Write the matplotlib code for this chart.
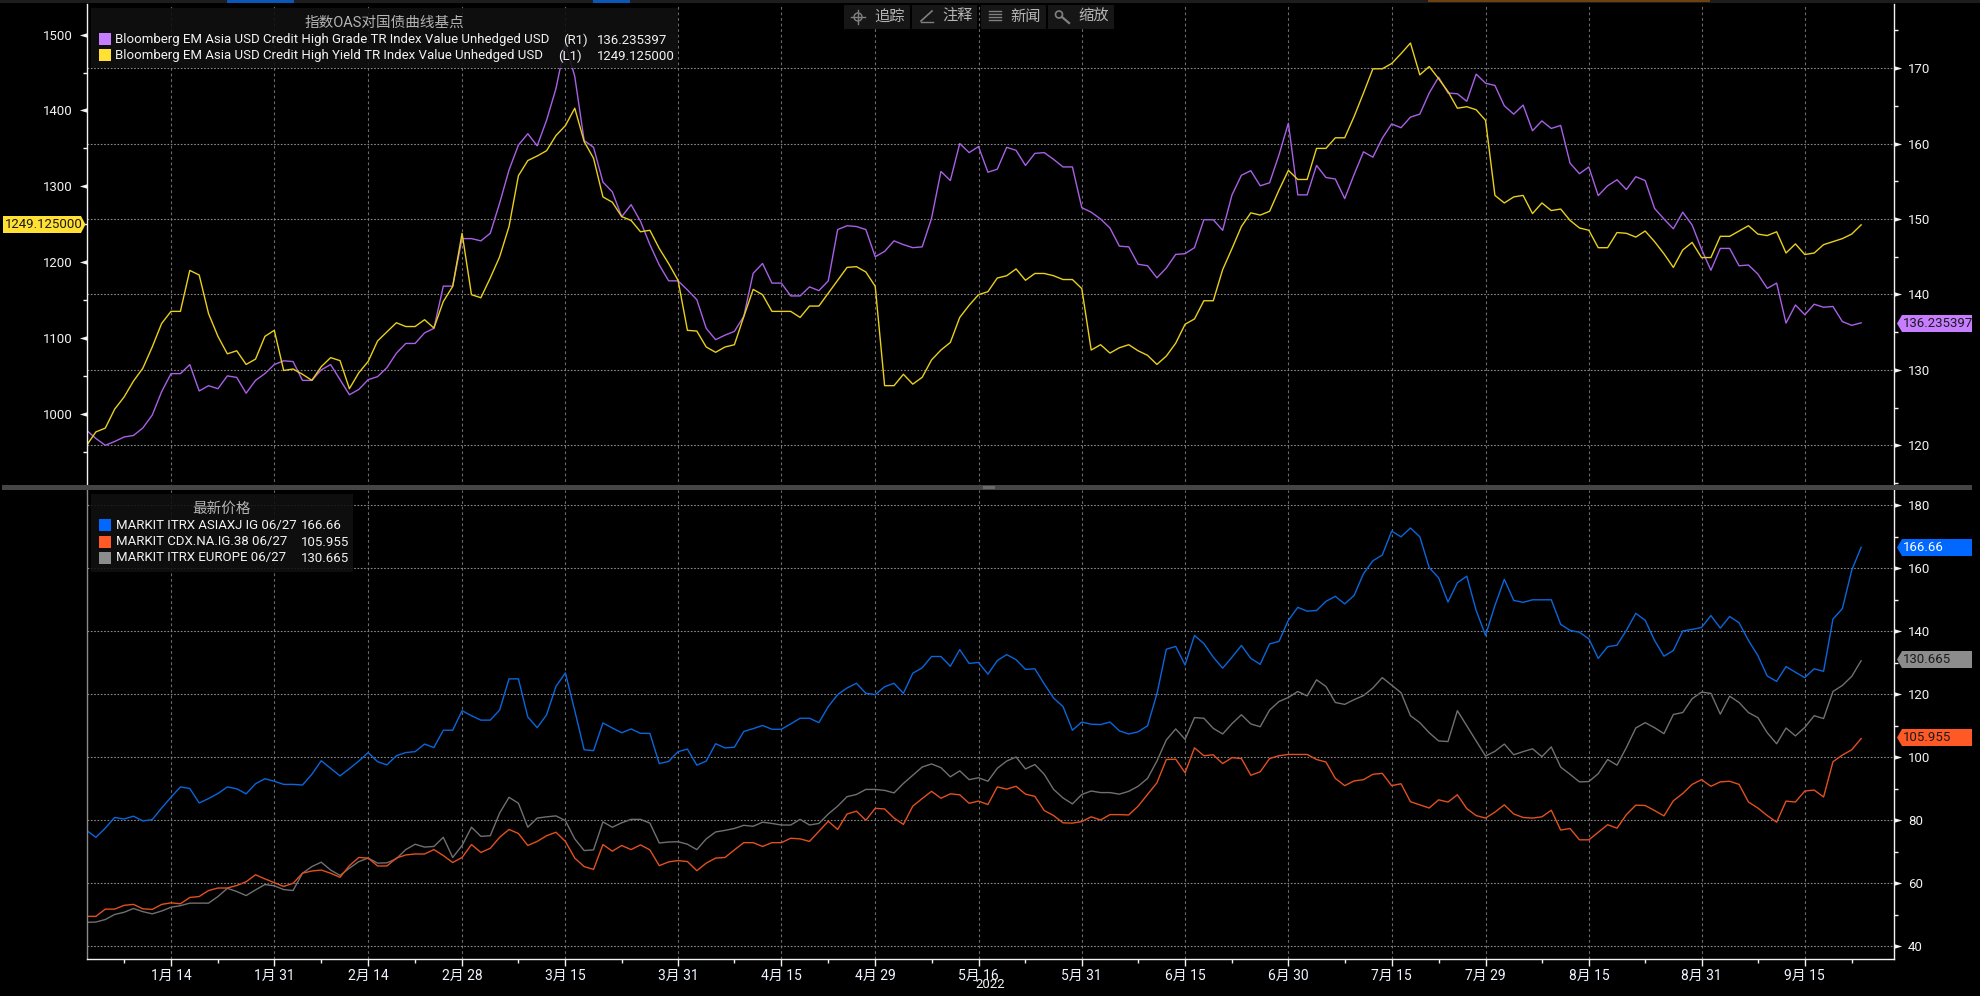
import matplotlib
matplotlib.use("Agg")
import matplotlib.pyplot as plt
import numpy as np
from matplotlib.lines import Line2D
from matplotlib.patches import Circle, Polygon, Rectangle
from matplotlib.path import Path
from matplotlib.transforms import Affine2D

plt.rcParams["font.family"] = ["Roboto", "Noto Sans CJK SC", "DejaVu Sans"]

# business days from 2022-01-03, one value per day
high_yield = [
    958, 976, 981, 1006, 1022, 1043, 1060, 1088, 1119, 1135,
    1135, 1189, 1183, 1132, 1102, 1079, 1083, 1065, 1072, 1102,
    1110, 1057, 1059, 1052, 1044, 1062, 1074, 1070, 1033, 1054,
    1069, 1096, 1108, 1120, 1115, 1115, 1124, 1113, 1148, 1168,
    1238, 1157, 1153, 1179, 1207, 1247, 1314, 1334, 1340, 1347,
    1367, 1380, 1403, 1359, 1337, 1286, 1279, 1260, 1255, 1240,
    1242, 1218, 1198, 1176, 1110, 1109, 1088, 1081, 1088, 1091,
    1128, 1164, 1157, 1135, 1135, 1135, 1127, 1142, 1142, 1159,
    1176, 1193, 1194, 1187, 1168, 1037, 1037, 1052, 1039, 1048,
    1071, 1084, 1094, 1127, 1143, 1157, 1161, 1179, 1182, 1191,
    1176, 1185, 1185, 1182, 1177, 1177, 1165, 1084, 1091, 1080,
    1087, 1091, 1083, 1077, 1065, 1076, 1093, 1118, 1125, 1149,
    1149, 1190, 1218, 1247, 1265, 1262, 1267, 1295, 1321, 1309,
    1309, 1350, 1350, 1364, 1364, 1392, 1423, 1455, 1455, 1462,
    1475, 1489, 1447, 1458, 1442, 1425, 1403, 1405, 1401, 1387,
    1288, 1278, 1286, 1288, 1264, 1278, 1268, 1270, 1255, 1245,
    1242, 1219, 1219, 1239, 1238, 1233, 1241, 1227, 1211, 1193,
    1216, 1226, 1206, 1206, 1234, 1234, 1241, 1248, 1237, 1235,
    1240, 1212, 1224, 1210, 1212, 1223, 1227, 1231, 1237, 1249.125,
]
high_grade = [
    122.0, 120.9, 120.0, 120.5, 121.1, 121.3, 122.3, 124.0, 127.1, 129.5,
    129.5, 130.7, 127.2, 127.9, 127.5, 129.2, 129.0, 126.9, 128.6, 129.5,
    130.7, 131.2, 131.1, 128.6, 128.6, 130.0, 130.7, 128.7, 126.7, 127.4,
    128.7, 129.1, 130.3, 132.2, 133.5, 133.5, 134.9, 135.5, 141.1, 141.1,
    147.4, 147.4, 147.1, 148.1, 152.1, 156.5, 159.8, 161.3, 159.7, 163.1,
    167.3, 173.3, 168.9, 160.4, 159.5, 154.9, 153.6, 150.3, 151.9, 149.7,
    146.6, 143.9, 141.8, 141.8, 140.6, 139.3, 135.5, 134.0, 134.6, 135.1,
    137.1, 142.8, 144.1, 141.5, 141.5, 139.8, 139.8, 141.0, 140.5, 141.8,
    148.6, 149.1, 149.0, 148.6, 145.0, 145.7, 147.1, 146.6, 146.2, 146.3,
    150.1, 156.3, 155.1, 160.0, 158.8, 159.6, 156.2, 156.6, 159.5, 159.1,
    157.1, 158.7, 158.8, 157.9, 156.9, 156.9, 151.5, 150.9, 150.0, 148.8,
    146.4, 146.3, 144.0, 143.8, 142.2, 143.5, 145.3, 145.4, 146.2, 149.9,
    149.9, 148.5, 153.2, 155.8, 156.4, 154.4, 154.8, 158.5, 162.7, 153.2,
    153.2, 157.1, 155.5, 155.3, 152.7, 155.9, 158.9, 158.2, 160.7, 162.6,
    162.1, 163.5, 163.9, 166.7, 168.8, 166.7, 166.6, 165.6, 169.2, 168.0,
    167.7, 165.0, 163.9, 165.1, 161.7, 163.0, 162.0, 162.4, 157.4, 156.0,
    156.9, 153.1, 154.4, 155.2, 153.9, 155.6, 155.1, 151.4, 150.0, 148.7,
    150.9, 149.2, 146.0, 143.2, 146.1, 146.1, 143.8, 143.9, 142.7, 140.8,
    141.5, 136.2, 138.6, 137.3, 138.7, 138.3, 138.4, 136.4, 135.9, 136.235,
]
itrx_asia = [
    76.8, 74.6, 77.5, 80.9, 80.4, 81.3, 79.8, 80.2, 83.9, 87.3,
    90.6, 90.1, 85.5, 86.9, 88.5, 90.6, 90.0, 88.4, 91.6, 93.2,
    92.4, 91.4, 91.4, 91.2, 94.6, 98.9, 96.5, 94.1, 96.4, 98.8,
    101.5, 98.6, 97.6, 100.5, 101.5, 101.8, 104.2, 103.1, 108.6, 108.6,
    114.8, 113.2, 111.8, 111.8, 115.0, 124.9, 124.9, 112.8, 109.4, 113.5,
    122.5, 126.8, 114.8, 102.4, 102.1, 110.9, 109.3, 107.8, 109.0, 107.6,
    107.6, 98.0, 98.7, 101.8, 102.6, 97.5, 98.8, 104.3, 103.0, 103.2,
    108.2, 109.1, 110.1, 108.9, 108.9, 110.6, 112.4, 112.4, 111.0, 116.1,
    119.9, 122.0, 123.5, 120.3, 119.9, 122.4, 123.5, 120.3, 126.7, 128.4,
    132.0, 132.0, 128.9, 134.2, 129.8, 130.1, 126.4, 130.7, 132.6, 131.0,
    127.9, 128.1, 123.3, 118.8, 116.1, 108.6, 111.2, 110.5, 110.4, 111.2,
    108.4, 107.4, 108.1, 110.0, 120.1, 134.3, 135.2, 129.3, 138.7, 136.1,
    131.8, 128.3, 131.8, 135.5, 131.4, 129.5, 136.0, 136.8, 143.5, 147.6,
    146.4, 146.6, 149.5, 151.1, 148.7, 151.4, 158.3, 162.4, 164.2, 171.8,
    170.0, 172.8, 170.0, 160.2, 157.0, 149.3, 155.4, 157.5, 146.6, 138.7,
    148.2, 156.5, 149.8, 149.2, 150.0, 150.0, 150.0, 142.2, 140.3, 139.7,
    137.6, 131.4, 135.1, 135.6, 140.3, 145.7, 143.5, 137.1, 132.1, 133.9,
    140.1, 140.6, 141.2, 145.0, 141.0, 144.7, 142.7, 137.1, 132.3, 125.8,
    124.1, 128.8, 127.0, 125.3, 128.1, 127.3, 143.9, 147.2, 159.4, 166.66,
]
cdx_na = [
    49.5, 49.5, 51.8, 51.8, 53.0, 53.3, 51.9, 51.7, 53.3, 53.8,
    53.5, 55.5, 55.8, 57.7, 58.5, 58.5, 59.3, 60.5, 62.7, 61.4,
    60.2, 59.0, 60.0, 63.2, 63.9, 64.2, 63.2, 61.9, 65.6, 68.2,
    68.0, 65.5, 65.5, 68.0, 69.0, 69.3, 69.3, 70.7, 68.8, 66.6,
    68.2, 72.3, 69.8, 71.1, 74.6, 77.1, 75.8, 72.0, 73.3, 75.1,
    76.2, 73.3, 68.0, 65.3, 64.4, 72.3, 70.2, 72.0, 70.7, 72.2,
    70.6, 65.6, 66.8, 67.2, 66.9, 64.0, 66.4, 68.0, 68.2, 70.6,
    72.9, 72.9, 71.7, 72.9, 72.9, 74.3, 74.1, 73.3, 76.5, 79.7,
    77.1, 82.0, 82.9, 80.0, 83.8, 83.6, 80.7, 78.7, 84.5, 86.9,
    89.2, 87.0, 88.4, 88.1, 85.4, 86.1, 85.0, 90.6, 89.9, 90.8,
    88.3, 87.6, 83.1, 81.5, 79.2, 79.1, 79.6, 81.1, 80.1, 81.8,
    81.8, 81.7, 84.5, 88.2, 91.9, 99.3, 99.4, 95.1, 103.0, 100.5,
    100.8, 98.0, 99.9, 99.6, 94.3, 95.4, 99.6, 100.5, 100.9, 100.9,
    100.9, 99.3, 98.5, 93.3, 91.0, 92.5, 92.9, 94.6, 94.9, 91.0,
    91.6, 85.9, 84.9, 83.9, 86.5, 85.8, 88.1, 83.7, 81.5, 80.7,
    82.6, 84.9, 82.0, 80.9, 80.7, 81.1, 83.2, 76.9, 77.4, 73.8,
    73.8, 76.2, 78.6, 77.5, 81.8, 84.8, 84.7, 83.1, 81.4, 86.2,
    88.5, 91.4, 92.9, 90.8, 92.2, 92.4, 91.4, 85.8, 83.9, 81.5,
    79.4, 86.1, 85.8, 89.3, 89.6, 87.4, 98.6, 100.7, 102.4, 105.955,
]
itrx_europe = [
    47.6, 47.7, 48.5, 50.1, 50.8, 52.0, 51.0, 50.3, 51.2, 52.4,
    52.9, 53.7, 53.7, 53.7, 55.8, 58.4, 57.4, 56.1, 57.9, 59.6,
    59.2, 58.0, 57.7, 63.2, 65.3, 66.7, 64.2, 62.5, 64.8, 66.9,
    68.0, 66.4, 66.5, 67.8, 70.7, 72.4, 71.5, 71.7, 74.6, 68.2,
    72.0, 77.8, 74.9, 75.1, 82.3, 87.3, 85.4, 77.8, 80.7, 81.1,
    81.4, 79.9, 74.1, 70.4, 70.6, 79.5, 77.8, 79.2, 80.3, 80.3,
    79.1, 72.8, 73.1, 73.2, 72.4, 70.7, 74.1, 76.3, 76.8, 77.4,
    78.4, 78.1, 79.4, 79.0, 78.5, 78.5, 80.3, 78.5, 79.0, 82.0,
    84.5, 87.5, 88.2, 89.8, 89.8, 89.5, 88.7, 91.7, 94.3, 96.9,
    97.9, 96.7, 93.8, 95.7, 92.9, 93.5, 92.4, 96.5, 98.8, 100.1,
    96.3, 97.7, 94.6, 89.8, 87.1, 85.2, 88.2, 89.3, 88.8, 88.8,
    88.3, 89.2, 90.8, 93.3, 98.8, 105.5, 109.0, 105.7, 112.6, 112.4,
    109.2, 107.4, 110.7, 113.5, 110.6, 109.7, 115.0, 117.7, 119.0, 120.9,
    119.5, 124.6, 122.5, 117.4, 116.8, 118.3, 119.6, 122.0, 125.3, 122.9,
    120.5, 113.2, 111.0, 107.8, 105.2, 105.0, 114.8, 110.0, 105.2, 100.4,
    101.9, 104.2, 100.8, 101.8, 102.7, 100.2, 103.3, 96.9, 94.6, 92.2,
    92.3, 94.8, 99.3, 97.5, 103.1, 109.3, 111.0, 109.4, 107.5, 113.6,
    114.2, 118.6, 120.7, 120.3, 113.7, 119.4, 117.4, 114.2, 112.6, 107.8,
    104.3, 109.3, 106.8, 109.5, 113.2, 112.3, 120.9, 122.8, 125.7, 130.665,
]

start_date = "2022-01-03"
major_dates = [
    "2022-01-14", "2022-01-31", "2022-02-14", "2022-02-28", "2022-03-15", "2022-03-31",
    "2022-04-15", "2022-04-29", "2022-05-16", "2022-05-31", "2022-06-15", "2022-06-30",
    "2022-07-15", "2022-07-29", "2022-08-15", "2022-08-31", "2022-09-15",
]
major_labels = [
    "1月 14", "1月 31", "2月 14", "2月 28", "3月 15", "3月 31", "4月 15", "4月 29", "5月 16",
    "5月 31", "6月 15", "6月 30", "7月 15", "7月 29", "8月 15", "8月 31", "9月 15",
]
minor_dates = [
    "2022-01-07", "2022-01-21", "2022-02-07", "2022-02-21", "2022-03-08", "2022-03-23",
    "2022-04-08", "2022-04-22", "2022-05-09", "2022-05-23", "2022-06-08", "2022-06-22",
    "2022-07-08", "2022-07-22", "2022-08-08", "2022-08-23", "2022-09-08", "2022-09-22",
]
left_ticks = [1000, 1100, 1200, 1300, 1400, 1500]
left_minor = [950, 1050, 1150, 1250, 1350, 1450]
right_ticks = [120, 130, 140, 150, 160, 170]
right_minor = [115, 125, 135, 145, 155, 165, 175]
cds_ticks = [40, 60, 80, 100, 120, 140, 160, 180]
cds_minor = [50, 70, 90, 110, 130, 150, 170]

W, H = 1980, 996
WHITE = "#f2f2f2"
PURPLE, YELLOW, BLUE, ORANGE, GRAY = "#c77dff", "#ffe033", "#0068ff", "#ff5a26", "#8c8c8c"


def axes_px(fig, left, top, right, bottom):
    return fig.add_axes([left / W, 1 - bottom / H, (right - left) / W, (bottom - top) / H])


def style_axis(ax, ticks, minor, side, marker):
    ax.set_yticks(ticks)
    ax.set_yticks(minor, minor=True)
    ax.tick_params(axis="y", which="major", length=0, pad=10, labelsize=9.5, labelcolor=WHITE,
                   left=side == "left", right=side == "right",
                   labelleft=side == "left", labelright=side == "right")
    ax.tick_params(axis="y", which="minor", length=3, width=1, color=WHITE,
                   left=side == "left", right=side == "right")
    x = 0 if side == "left" else 1
    ax.plot([x] * len(ticks), ticks, ls="none", marker=marker, ms=11, mfc=WHITE, mec="none",
            transform=ax.get_yaxis_transform(), clip_on=False, zorder=6)


fig = plt.figure(figsize=(W / 100, H / 100), dpi=100, facecolor="black")
to_px = Affine2D().scale(1 / W, -1 / H).translate(0, 1) + fig.transFigure

days = np.arange(len(high_yield))
major_pos = np.busday_count(start_date, major_dates)
minor_pos = np.busday_count(start_date, minor_dates)
xlim = (0, 192.5)
left_marker = Path([(-1, 0), (0, 0.3), (0, -0.3), (-1, 0)], closed=True)
right_marker = Path([(1, 0), (0, 0.3), (0, -0.3), (1, 0)], closed=True)

# top panel
ax_hg = axes_px(fig, 86.5, 4, 1894, 487)
ax_hy = ax_hg.twinx()
ax_hg.set_zorder(1)
ax_hy.set_zorder(2)
ax_hg.set_facecolor("black")
ax_hy.patch.set_visible(False)
ax_hg.plot(days, high_grade, color="#a860e6", lw=1.0)
ax_hy.plot(days, high_yield, color="#e8d01c", lw=1.0)
ax_hg.set_ylim(114.47, 178.5)
ax_hy.set_ylim(903.3, 1540.5)
ax_hg.yaxis.tick_right()
ax_hy.yaxis.tick_left()
style_axis(ax_hg, right_ticks, right_minor, "right", right_marker)
style_axis(ax_hy, left_ticks, left_minor, "left", left_marker)

# bottom panel
ax_cds = axes_px(fig, 86.5, 490, 1894, 959.3)
ax_cds.set_facecolor("black")
ax_cds.plot(days, itrx_asia, color="#0a66dc", lw=1.0)
ax_cds.plot(days, itrx_europe, color="#707070", lw=1.0)
ax_cds.plot(days, cdx_na, color="#e2501f", lw=1.0)
ax_cds.set_ylim(35.87, 184.86)
ax_cds.yaxis.tick_right()
style_axis(ax_cds, cds_ticks, cds_minor, "right", right_marker)

for ax in (ax_hg, ax_hy, ax_cds):
    ax.set_xlim(*xlim)
    ax.set_xticks(major_pos)
    ax.set_xticks(minor_pos, minor=True)
    for s in ax.spines.values():
        s.set_visible(False)
for ax in (ax_hg, ax_cds):
    ax.grid(True, axis="x", which="major", color="#6a6a6a", ls=(0, (2.5, 2.5)), lw=0.8)
    ax.grid(True, axis="y", which="major", color="#8a8a8a", ls=(0, (1.5, 1.5)), lw=0.8)
ax_hg.tick_params(axis="x", which="both", length=0, labelbottom=False)
ax_hy.tick_params(axis="x", which="both", length=0, labelbottom=False)
ax_cds.set_xticklabels(major_labels)
ax_cds.tick_params(axis="x", which="major", length=5, width=1, color=WHITE, labelsize=10,
                   labelcolor="#eef4ff", pad=2)
ax_cds.tick_params(axis="x", which="minor", length=3, width=1, color=WHITE)
ax_hg.spines["right"].set(visible=True, color=WHITE, lw=1)
ax_hy.spines["left"].set(visible=True, color=WHITE, lw=1)
ax_cds.spines["right"].set(visible=True, color=WHITE, lw=1)
ax_cds.spines["bottom"].set(visible=True, color=WHITE, lw=1)
ax_cds.spines["left"].set(visible=True, color="#8a8a8a", lw=1)


def rect(x0, y0, x1, y1, color, alpha=1, z=5):
    fig.add_artist(Rectangle((x0, y0), x1 - x0, y1 - y0, transform=to_px, facecolor=color,
                             edgecolor="none", alpha=alpha, zorder=z))


def label(x, y, text, color=WHITE, size=9.5, ha="left", z=7):
    fig.text(x, y, text, transform=to_px, color=color, fontsize=size, ha=ha, va="center", zorder=z)


def tag(y0, y1, color, text, text_color, side="right"):
    ym = (y0 + y1) / 2
    if side == "right":
        pts = [(1897, ym), (1902, y0), (1972, y0), (1972, y1), (1902, y1)]
        tx = 1903
    else:
        pts = [(3, y0), (81, y0), (85.5, ym), (81, y1), (3, y1)]
        tx = 5
    fig.add_artist(Polygon(pts, closed=True, transform=to_px, facecolor=color, edgecolor="none", zorder=6))
    label(tx, ym, text, color=text_color)


# window chrome
rect(0, 0, W, 3, "#1d1d1d")
rect(227, 0, 294, 3, "#0b57b8")
rect(593, 0, 630, 3, "#0b57b8")
rect(1428, 0, 1710, 2, "#6d4210")
rect(2, 485, 1972, 490, "#454545")
rect(983, 486, 995, 489, "#6a6a6a", z=6)

for x0, x1, text, tx in [(844, 910, "追踪", 890), (912, 977, "注释", 958),
                         (981, 1046, "新闻", 1026), (1048, 1114, "缩放", 1094)]:
    rect(x0, 5, x1, 29, "#161616")
    label(tx, 16.5, text, color="#b4b4b4", size=11, ha="center")

# toolbar icons
icon_color = "#808080"
fig.add_artist(Circle((858, 17), 4, transform=to_px, fill=False, edgecolor=icon_color, lw=1, zorder=7))
fig.add_artist(Circle((1059, 14.5), 3.5, transform=to_px, fill=False, edgecolor=icon_color, lw=1.2, zorder=7))
for xs, ys, lw in [((851, 865), (17, 17), 1), ((858, 858), (10, 24), 1),
                   ((921, 932), (21, 11), 1.2), ((921, 933), (22, 22), 1),
                   ((989, 1001), (11, 11), 1), ((989, 1001), (14, 14), 1), ((989, 1001), (17, 17), 1),
                   ((989, 1001), (20, 20), 1), ((1062, 1069), (17, 23), 1.6)]:
    fig.add_artist(Line2D(xs, ys, transform=to_px, color=icon_color, lw=lw, zorder=7))

# top legend
rect(91, 8, 678, 68, "#101010", alpha=0.88)
label(384, 23, "指数OAS对国债曲线基点", color="#b4b4b4", size=10.5, ha="center")
rect(99, 33, 111, 45, PURPLE, z=6)
rect(99, 49, 111, 61, YELLOW, z=6)
label(115, 40, "Bloomberg EM Asia USD Credit High Grade TR Index Value Unhedged USD")
label(563, 40, "(R1)")
label(597, 40, "136.235397")
label(115, 56, "Bloomberg EM Asia USD Credit High Yield TR Index Value Unhedged USD")
label(558, 56, "(L1)")
label(597, 56, "1249.125000")

# bottom legend
rect(91, 494, 353, 572, "#101010", alpha=0.88)
label(222, 509, "最新价格", color="#b4b4b4", size=10.5, ha="center")
for y, color, text, value in [(525.5, BLUE, "MARKIT ITRX ASIAXJ IG 06/27", "166.66"),
                              (542, ORANGE, "MARKIT CDX.NA.IG.38 06/27", "105.955"),
                              (558, GRAY, "MARKIT ITRX EUROPE 06/27", "130.665")]:
    rect(99, y - 6, 111, y + 6, color, z=6)
    label(115.5, y, text)
    label(300.5, y, value)

label(990, 985, "2022", size=9.5, ha="center")

# last-value tags
tag(216, 233, YELLOW, "1249.125000", "#1a1a1a", side="left")
tag(315, 332, PURPLE, "136.235397", "#1a1a1a")
tag(539, 556, BLUE, "166.66", "#ffffff")
tag(651, 668, GRAY, "130.665", "#1a1a1a")
tag(729, 746, ORANGE, "105.955", "#1a1a1a")

fig.savefig("out.png", dpi=100, facecolor="black")
